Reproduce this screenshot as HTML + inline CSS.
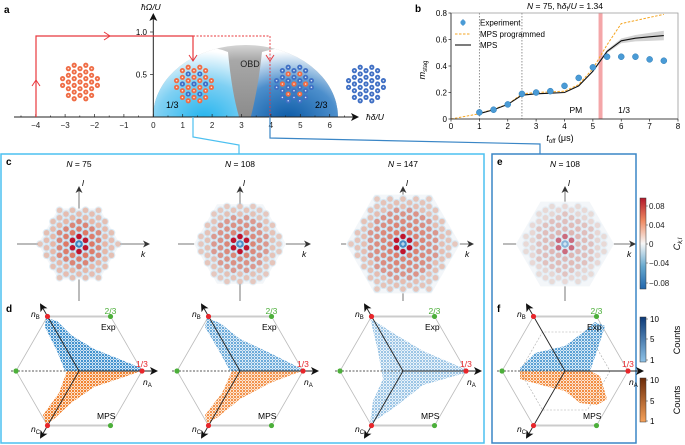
<!DOCTYPE html>
<html><head><meta charset="utf-8"><style>
html,body{margin:0;padding:0;background:#fff}
svg{display:block;font-family:"Liberation Sans",sans-serif}
</style></head><body>
<svg id="fig" width="685" height="445" viewBox="0 0 685 445" xmlns="http://www.w3.org/2000/svg">
<defs>
  <radialGradient id="gGray" cx="0.5" cy="1" r="1">
    <stop offset="0" stop-color="#8a8a8a"/><stop offset="0.75" stop-color="#a8a8a8"/><stop offset="1" stop-color="#e4e4e4"/>
  </radialGradient>
  <radialGradient id="gLeft" cx="0.6" cy="1" r="0.95">
    <stop offset="0" stop-color="#22b4ee"/><stop offset="0.55" stop-color="#7fd0f3"/><stop offset="1" stop-color="#ffffff"/>
  </radialGradient>
  <radialGradient id="gRight" cx="0.4" cy="1" r="0.95">
    <stop offset="0" stop-color="#0b5aa6"/><stop offset="0.55" stop-color="#4d8fcc"/><stop offset="1" stop-color="#ffffff"/>
  </radialGradient>
  <linearGradient id="cbC" x1="0" y1="0" x2="0" y2="1">
    <stop offset="0" stop-color="#b2182b"/><stop offset="0.25" stop-color="#ef8a62"/><stop offset="0.5" stop-color="#f7f7f7"/><stop offset="0.75" stop-color="#67a9cf"/><stop offset="1" stop-color="#2166ac"/>
  </linearGradient>
  <linearGradient id="cbB" x1="0" y1="0" x2="0" y2="1">
    <stop offset="0" stop-color="#0d3a78"/><stop offset="1" stop-color="#8ec3e8"/>
  </linearGradient>
  <linearGradient id="cbO" x1="0" y1="0" x2="0" y2="1">
    <stop offset="0" stop-color="#6b2a08"/><stop offset="1" stop-color="#f7a25a"/>
  </linearGradient>
  <pattern id="patB" width="3" height="3" patternUnits="userSpaceOnUse">
    <rect x="0" y="0" width="2" height="2" fill="#3d8fcc"/><rect x="2" y="2" width="1" height="1" fill="#6aaadb"/>
  </pattern>
  <pattern id="patO" width="3" height="3" patternUnits="userSpaceOnUse">
    <rect x="0" y="0" width="2" height="2" fill="#f07f2a"/><rect x="2" y="2" width="1" height="1" fill="#f5a05a"/>
  </pattern>
  <clipPath id="domeClip"><path d="M153,117 A92.5,72 0 0 1 338,117 Z"/></clipPath>
  <marker id="arr" markerWidth="8" markerHeight="8" refX="6" refY="4" orient="auto" markerUnits="userSpaceOnUse">
    <path d="M0,0 L8,4 L0,8 L2,4 Z" fill="#111"/></marker>
  <marker id="arrG" markerWidth="7" markerHeight="7" refX="5" refY="3.5" orient="auto" markerUnits="userSpaceOnUse">
    <path d="M0,0 L7,3.5 L0,7 L2,3.5 Z" fill="#333"/></marker>
</defs>

<g>
  <text x="4" y="13" font-size="10" font-weight="bold">a</text>
  <g clip-path="url(#domeClip)">
    <rect x="150" y="40" width="195" height="80" fill="url(#gGray)"/>
    <path d="M150,120 L150,60 Q200,40 228,52 Q232,95 240,120 Z" fill="url(#gLeft)"/>
    <path d="M250,120 Q258,90 262,52 Q300,40 345,60 L345,120 Z" fill="url(#gRight)"/>
  </g>
  <text x="250" y="67" font-size="9" text-anchor="middle" fill="#222">OBD</text>
  <text x="166" y="108" font-size="9">1/3</text>
  <text x="315" y="108" font-size="9">2/3</text>
  <g id="aAxis"></g>
  <g id="lattices"></g>
  <path d="M36,117 L36,36 L193,36 L193,60" fill="none" stroke="#e8383d" stroke-width="1.2"/>
  <path d="M193,36 L270,36 L270,117" fill="none" stroke="#e8383d" stroke-width="0.9" stroke-dasharray="2,1.5"/>
  <path d="M32,86 L36,80 L40,86 M104,32 L110,36 L104,40 M189,55 L193,61 L197,55 M266,55 L270,61 L274,55" fill="none" stroke="#e8383d" stroke-width="1"/>
  <path d="M193,117 L193,137 L239,145 L239,154" fill="none" stroke="#4cc0f0" stroke-width="1.2"/>
  <path d="M270,117 L270,138 L540,144 L540,154" fill="none" stroke="#3a86c6" stroke-width="1.2"/>
</g>

<g id="panelB">
  <text x="415" y="12" font-size="10" font-weight="bold">b</text>
</g>

<rect x="1" y="154" width="483" height="289" fill="none" stroke="#4cc0f0" stroke-width="1.5"/>
<rect x="492" y="154" width="144" height="289" fill="none" stroke="#3a86c6" stroke-width="1.5"/>
<text x="6" y="165" font-size="10" font-weight="bold">c</text>
<text x="497" y="165" font-size="10" font-weight="bold">e</text>
<text x="6" y="312" font-size="10" font-weight="bold">d</text>
<text x="497" y="312" font-size="10" font-weight="bold">f</text>
<g id="heatmaps"></g>
<g id="triangles"></g>

<g>
  <rect x="640" y="198" width="6" height="91" fill="url(#cbC)" stroke="#333" stroke-width="0.5"/>
  <g font-size="8" fill="#222">
    <text x="649" y="209">0.08</text><text x="649" y="228">0.04</text><text x="649" y="247">0</text>
    <text x="649" y="266">−0.04</text><text x="649" y="286">−0.08</text>
  </g>
  <path d="M646,206 h2 M646,225 h2 M646,244 h2 M646,263 h2 M646,283 h2" stroke="#333" stroke-width="0.6"/>
  <text transform="translate(680,244) rotate(-90)" font-size="9" text-anchor="middle" font-style="italic">C<tspan font-size="6" dy="2">k,l</tspan></text>
</g>
<g>
  <rect x="640" y="317" width="6" height="45" fill="url(#cbB)" stroke="#333" stroke-width="0.5"/>
  <g font-size="8"><text x="650" y="322">10</text><text x="650" y="342">5</text><text x="650" y="363">1</text></g>
  <path d="M646,319 h2 M646,339 h2 M646,360 h2" stroke="#333" stroke-width="0.6"/>
  <text transform="translate(680,340) rotate(-90)" font-size="9" text-anchor="middle">Counts</text>
</g>
<g>
  <rect x="640" y="378" width="6" height="44" fill="url(#cbO)" stroke="#333" stroke-width="0.5"/>
  <g font-size="8"><text x="650" y="383">10</text><text x="650" y="404">5</text><text x="650" y="424">1</text></g>
  <path d="M646,380 h2 M646,401 h2 M646,421 h2" stroke="#333" stroke-width="0.6"/>
  <text transform="translate(680,400) rotate(-90)" font-size="9" text-anchor="middle">Counts</text>
</g>
</svg>

<script>
// ---- Panel b data ----
const expT = [1,1.5,2,2.5,3,3.5,4,4.5,5,5.5,6,6.5,7,7.5];
const expM = [0.05,0.07,0.11,0.19,0.20,0.21,0.25,0.31,0.39,0.47,0.47,0.47,0.45,0.44];
const mpsT = [1,1.5,2,2.5,3,3.5,4,4.5,5,5.5,6,6.5,7,7.5];
const mpsM = [0.04,0.07,0.11,0.18,0.19,0.195,0.20,0.25,0.36,0.51,0.59,0.61,0.62,0.63];
const progT = [0,1,2,2.5,3,4,4.5,5,5.5,6,7.5];
const progM = [0,0.04,0.11,0.19,0.20,0.21,0.26,0.38,0.56,0.72,0.79];
const xTicksB = [0,1,2,3,4,5,6,7,8];
const yTicksB = [0,0.2,0.4,0.6,0.8];
// ---- Panel a axis ticks ----
const aXTicks = [-4,-3,-2,-1,0,1,2,3,4,5,6];
const aYTicks = [0.5,1.0];

const NS = "http://www.w3.org/2000/svg";
function mk(tag, attrs, parent){const e=document.createElementNS(NS,tag);for(const k in attrs)e.setAttribute(k,attrs[k]);parent.appendChild(e);return e;}

(function(){
  const g=document.getElementById('aAxis');
  const ax=v=>153.3+v*29.4, ay=v=>117-v*85;
  const xl=mk('line',{x1:14,y1:117,x2:357,y2:117,stroke:'#222','stroke-width':1,'marker-end':'url(#arr)'},g);
  
  
  const yl=mk('line',{x1:153.3,y1:117,x2:153.3,y2:15,stroke:'#222','stroke-width':1,'marker-end':'url(#arr)'},g);
  
  
  for(let v=-4.5;v<=6.5;v+=0.5){mk('line',{x1:ax(v),y1:117,x2:ax(v),y2:Number.isInteger(v)?114:115.5,stroke:'#222','stroke-width':0.7},g);}
  aXTicks.forEach(v=>{const t=mk('text',{x:ax(v),y:128,'font-size':8,'text-anchor':'middle',fill:'#222'},g);t.textContent=v<0?'−'+(-v):v;
    
    });
  aYTicks.forEach(v=>{mk('line',{x1:150,y1:ay(v),x2:153.3,y2:ay(v),stroke:'#222','stroke-width':0.7},g);
    const t=mk('text',{x:147,y:ay(v)+3,'font-size':8,'text-anchor':'end'},g);t.textContent=v.toFixed(1);
    
    });
  const t1=mk('text',{x:141,y:10,'font-size':8.5,'font-style':'italic'},g);t1.textContent='ħΩ/U';
  
  
  const t2=mk('text',{x:366,y:120,'font-size':8.5,'font-style':'italic'},g);t2.textContent='ħδ/U';
  
  

  const L=document.getElementById('lattices');
  const OR='#ef6c45', BL='#3f6fc4';
  function lattice(cx,cy,mode,name){
    const gg=mk('g',{},L);
    
    
    const s=6.7;
    for(let i=-4;i<=4;i++)for(let j=-5;j<=5;j++){
      const x=i*s*0.866, y=j*s+(Math.abs(i)%2?s/2:0);
      const q=i, r=j-Math.floor(i/2);
      if(Math.hypot(x,y)>19.5) continue;
      if(Math.abs(x)>17.5) continue;
      const sub=((q - r)%3+3)%3;
      let c=OR;
      if(mode==='third') c=(sub===0)?BL:OR;
      if(mode==='twothird') c=(sub===0)?OR:BL;
      if(mode==='blue') c=BL;
      mk('circle',{cx:cx+x,cy:cy+y,r:2.6,fill:c},gg);
      mk('circle',{cx:cx+x,cy:cy+y,r:0.8,fill:'#fff',opacity:0.8},gg);
    }
  }
  lattice(80,82,'orange','lattice-paramagnet');
  lattice(194,84,'third','lattice-one-third');
  lattice(294,84,'twothird','lattice-two-thirds');
  lattice(366,84,'blue','lattice-full');
})();

(function(){
  const g=document.getElementById('panelB');
  const X0=451,X1=678,Y0=119,Y1=13;
  const sx=v=>X0+(v-0)/(8-0)*(X1-X0), sy=v=>Y0-(v-0)/(0.8)*(Y0-Y1);
  const band=mk('rect',{x:sx(5.2),y:Y1,width:sx(5.34)-sx(5.2),height:Y0-Y1,fill:'#f4a6a8'},g);
  
  
  [1,2.5].forEach(v=>{const l=mk('line',{x1:sx(v),y1:Y1,x2:sx(v),y2:Y0,stroke:'#777','stroke-width':0.8,'stroke-dasharray':'1.5,1.5'},g);
    
    });
  const up=[],dn=[];
  mpsT.forEach((t,i)=>{if(t>=4.5){const w=(t-4.5)*0.012;up.push([sx(t),sy(mpsM[i]+w)]);dn.unshift([sx(t),sy(mpsM[i]-w)]);}});
  const sh=mk('path',{d:'M'+up.concat(dn).map(p=>p.join(',')).join(' L')+' Z',fill:'#c8c8c8',opacity:0.8},g);
  
  
  const prog=mk('polyline',{points:progT.map((t,i)=>sx(t)+','+sy(progM[i])).join(' '),fill:'none',stroke:'#f5a623','stroke-width':1,'stroke-dasharray':'2.5,1.5'},g);
  
  
  const mps=mk('polyline',{points:mpsT.map((t,i)=>sx(t)+','+sy(mpsM[i])).join(' '),fill:'none',stroke:'#111','stroke-width':1.1},g);
  
  
  expT.forEach((t,i)=>{const c=mk('circle',{cx:sx(t),cy:sy(expM[i]),r:3,fill:'#4a9bd6',stroke:'#2c7bb6','stroke-width':0.5},g);
    
    });
  mk('path',{d:`M${X0},${Y1} L${X1},${Y1} L${X1},${Y0} L${X0},${Y0} Z`,fill:'none',stroke:'#999','stroke-width':0.8},g);
  mk('line',{x1:X0,y1:Y0,x2:X1,y2:Y0,stroke:'#222','stroke-width':0.8},g);
  mk('line',{x1:X0,y1:Y0,x2:X0,y2:Y1,stroke:'#222','stroke-width':0.8},g);
  xTicksB.forEach(v=>{mk('line',{x1:sx(v),y1:Y0,x2:sx(v),y2:Y0+2.5,stroke:'#222','stroke-width':0.7},g);
    const t=mk('text',{x:sx(v),y:Y0+10,'font-size':8,'text-anchor':'middle'},g);t.textContent=v;
    
    });
  yTicksB.forEach(v=>{mk('line',{x1:X0-2.5,y1:sy(v),x2:X0,y2:sy(v),stroke:'#222','stroke-width':0.7},g);
    const t=mk('text',{x:X0-4,y:sy(v)+3,'font-size':8,'text-anchor':'end'},g);t.textContent=v===0?'0':v.toFixed(1);
    
    });
  const xt=mk('text',{x:560,y:141,'font-size':9,'text-anchor':'middle'},g);
  xt.innerHTML='<tspan font-style="italic">t</tspan><tspan font-size="6" dy="2">off</tspan><tspan dy="-2"> (μs)</tspan>';
  
  
  const yt=mk('text',{transform:'translate(425,70) rotate(-90)','font-size':9,'text-anchor':'middle'},g);
  yt.innerHTML='<tspan font-style="italic">m</tspan><tspan font-size="6" dy="2">stag</tspan>';
  
  
  const ti=mk('text',{x:565,y:9,'font-size':8.5,'text-anchor':'middle'},g);
  ti.innerHTML='<tspan font-style="italic">N</tspan> = 75, ħ<tspan font-style="italic">δ</tspan><tspan font-size="6" dy="2">f</tspan><tspan dy="-2">/</tspan><tspan font-style="italic">U</tspan> = 1.34';
  
  
  const pm=mk('text',{x:sx(4.4),y:113,'font-size':8.5,'text-anchor':'middle'},g);pm.textContent='PM';
  
  
  const th=mk('text',{x:sx(6.1),y:113,'font-size':8.5,'text-anchor':'middle'},g);th.textContent='1/3';
  
  
  const lg=mk('g',{},g);
  
  
  mk('line',{x1:463,y1:19,x2:463,y2:26,stroke:'#2c7bb6','stroke-width':0.8},lg);
  mk('circle',{cx:463,cy:22.5,r:2.6,fill:'#4a9bd6'},lg);
  mk('line',{x1:455,y1:34,x2:471,y2:34,stroke:'#f5a623','stroke-width':1,'stroke-dasharray':'2.5,1.5'},lg);
  mk('line',{x1:455,y1:45,x2:471,y2:45,stroke:'#111','stroke-width':1.1},lg);
  [['Experiment',25.5],['MPS programmed',37],['MPS',48]].forEach(([s,y])=>{const t=mk('text',{x:480,y:y,'font-size':8},lg);t.textContent=s;
    
    });
})();

(function(){
  const G=document.getElementById('heatmaps');
  function hexPath(cx,cy,R){let p='';for(let k=0;k<6;k++){const a=k*Math.PI/3;p+=(k?'L':'M')+(cx+R*Math.cos(a)).toFixed(1)+','+(cy+R*Math.sin(a)).toFixed(1);}return p+'Z';}
  function inHex(x,y,R){const ax=Math.abs(x),ay=Math.abs(y);return ay<=R*0.866 && (ax*0.866+ay*0.5)<=R*0.866;}
  function heat(cx,cy,R,label,strength,name){
    const g=mk('g',{},G);
    
    
    const t=mk('text',{x:cx,y:167,'font-size':8.5,'text-anchor':'middle'},g);
    t.innerHTML='<tspan font-style="italic">N</tspan> = '+label;
    mk('line',{x1:cx,y1:cy+57,x2:cx,y2:cy-56,stroke:'#777','stroke-width':1,'marker-end':'url(#arrG)'},g);
    mk('line',{x1:cx-62,y1:cy,x2:cx+69,y2:cy,stroke:'#777','stroke-width':1,'marker-end':'url(#arrG)'},g);
    const lt=mk('text',{x:cx+3,y:cy-58,'font-size':8.5,'font-style':'italic'},g);lt.textContent='l';
    const kt=mk('text',{x:cx+62,y:cy+13,'font-size':8.5,'font-style':'italic'},g);kt.textContent='k';
    mk('path',{d:hexPath(cx,cy,R),fill:'#f3f6f9'},g);
    const a=7.5, b=a/1.732;
    for(let i=-20;i<=20;i++)for(let j=-20;j<=20;j++){
      const x=i*b*1.5, y=(j+(Math.abs(i)%2?0.5:0))*b*1.732;
      if(!inHex(x,y,R-1.5))continue;
      const d=Math.hypot(x,y)/R;
      const o=(0.3+0.5*Math.max(0,1-d))*strength;
      mk('circle',{cx:cx+x,cy:cy+y,r:b*0.9,fill:'#a9cde6',opacity:Math.min(1,o).toFixed(2)},g);
    }
    for(let i=-12;i<=12;i++)for(let j=-12;j<=12;j++){
      const x=i*a*0.866, y=(j+(Math.abs(i)%2?0.5:0))*a;
      if(!inHex(x,y,R-2))continue;
      const d=Math.hypot(x,y);
      if(d<1)continue;
      const f=Math.max(0,1-d/(R*1.05));
      let col, op;
      if(d<a*1.1){col='#c0152d';op=Math.min(1,strength*1.3);}
      else {col=f>0.4?'#e06a52':'#f0a284';op=(0.45+0.6*f)*strength;}
      mk('circle',{cx:cx+x,cy:cy+y,r:2.8,fill:col,opacity:Math.min(1,op).toFixed(2)},g);
    }
    mk('circle',{cx:cx,cy:cy,r:3.8,fill:'#3b86c4',opacity:0.9*strength+0.1},g);
    mk('path',{d:`M${cx-2},${cy} h4 M${cx},${cy-2} v4`,stroke:'#fff','stroke-width':0.8},g);
  }
  heat(79,244,41,'75',1,'heatmap-n75');
  heat(240,244,46,'108',0.85,'heatmap-n108');
  heat(403,244,57,'147',0.9,'heatmap-n147');
  heat(565,244,49,'108',0.45,'heatmap-e-n108');
})();

(function(){
  const G=document.getElementById('triangles');
  const R=63, cy=371;
  function tri(cx,name,blueShape,orangeShape,blueOp,orangeOp,inner){
    const g=mk('g',{},G);
    
    
    const v=[];for(let k=0;k<6;k++){const a=k*Math.PI/3;v.push([cx+R*Math.cos(a),cy+R*Math.sin(a)]);}
    mk('path',{d:'M'+v.map(p=>p.map(n=>n.toFixed(1)).join(',')).join(' L')+'Z',fill:'none',stroke:'#bbb','stroke-width':0.8},g);
    mk('line',{x1:v[4][0],y1:v[4][1],x2:v[5][0],y2:v[5][1],stroke:'#ccc','stroke-width':2},g);
    mk('line',{x1:v[1][0],y1:v[1][1],x2:v[2][0],y2:v[2][1],stroke:'#ccc','stroke-width':2},g);
    if(inner){const r=45;let d='';for(let k=0;k<6;k++){const a=k*Math.PI/3;d+=(k?'L':'M')+(cx+r*Math.cos(a)).toFixed(1)+','+(cy+r*Math.sin(a)).toFixed(1);}
      mk('path',{d:d+'Z',fill:'none',stroke:'#aaa','stroke-width':0.6,'stroke-dasharray':'2,1.5'},g);}
    const poly=(pts,fill,op)=>mk('path',{d:'M'+pts.map(p=>(cx+p[0])+','+(cy+p[1])).join(' L')+'Z',fill:fill,opacity:op},g);
    poly(blueShape,'#3d8fcc',blueOp*0.25);
    poly(blueShape,'url(#patB)',blueOp);
    poly(orangeShape,'#f07f2a',orangeOp*0.25);
    poly(orangeShape,'url(#patO)',orangeOp);
    mk('line',{x1:cx-R-5,y1:cy,x2:cx+R,y2:cy,stroke:'#222','stroke-width':0.7,'stroke-dasharray':'2,1.5'},g);
    mk('line',{x1:cx,y1:cy,x2:cx+R+14,y2:cy,stroke:'#222','stroke-width':0.9,'marker-end':'url(#arr)'},g);
    mk('line',{x1:cx,y1:cy,x2:cx-38,y2:cy-66,stroke:'#222','stroke-width':0.9,'marker-end':'url(#arr)'},g);
    mk('line',{x1:cx,y1:cy,x2:cx-38,y2:cy+66,stroke:'#222','stroke-width':0.9,'marker-end':'url(#arr)'},g);
    [[v[4],'#e8262b'],[v[2],'#e8262b'],[v[0],'#e8262b'],[v[5],'#4caf3a'],[v[1],'#4caf3a'],[v[3],'#4caf3a']].forEach(([p,c])=>mk('circle',{cx:p[0],cy:p[1],r:2.6,fill:c},g));
    const T=(x,y,s,o)=>{const t=mk('text',Object.assign({x:x,y:y,'font-size':8.5},o||{}),g);t.innerHTML=s;return t;};
    T(v[5][0]-6,cy-57,'2/3',{fill:'#4caf3a'});
    T(cx+R-6,cy-4,'1/3',{fill:'#e8262b'});
    T(cx+22,cy-41,'Exp');
    T(cx+18,cy+48,'MPS');
    T(cx-48,cy-54,'<tspan font-style="italic">n</tspan><tspan font-size="6" dy="2">B</tspan>');
    T(cx-48,cy+61,'<tspan font-style="italic">n</tspan><tspan font-size="6" dy="2">C</tspan>');
    T(cx+64,cy+14,'<tspan font-style="italic">n</tspan><tspan font-size="6" dy="2">A</tspan>');
  }
  const b1=[[-33,-53],[-22,-50],[-8,-36],[15,-22],[45,-10],[62,-3],[62,0],[-14,0],[-22,-20],[-34,-44]];
  const o1=[[-33,53],[-25,48],[-8,32],[15,16],[45,6],[62,0],[-12,0],[-20,22],[-36,44]];
  tri(79,'ternary-n75',b1,o1,0.95,0.95,false);
  tri(240,'ternary-n108',[[-33,-53],[-20,-48],[0,-32],[30,-18],[62,-2],[62,0],[-10,0],[-22,-22],[-35,-44]],
      [[-33,53],[-22,46],[0,28],[30,12],[62,0],[-8,0],[-18,22],[-35,44]],0.7,0.8,false);
  tri(403,'ternary-n147',[[-33,-53],[-10,-38],[20,-20],[62,-2],[62,2],[20,14],[-8,36],[-33,53],[-30,30],[-20,8],[-25,-20]],
      [[0,0],[0,0],[0,0]],0.45,0,false);
  tri(565,'ternary-f',[[-45,-3],[-30,-18],[0,-25],[20,-40],[30,-49],[40,-45],[32,-20],[25,0],[-45,0]],
      [[-45,2],[-45,8],[-20,15],[0,20],[15,32],[32,34],[42,28],[35,5],[25,0],[-45,0]],0.8,0.85,true);
})();
</script>
</body></html>
